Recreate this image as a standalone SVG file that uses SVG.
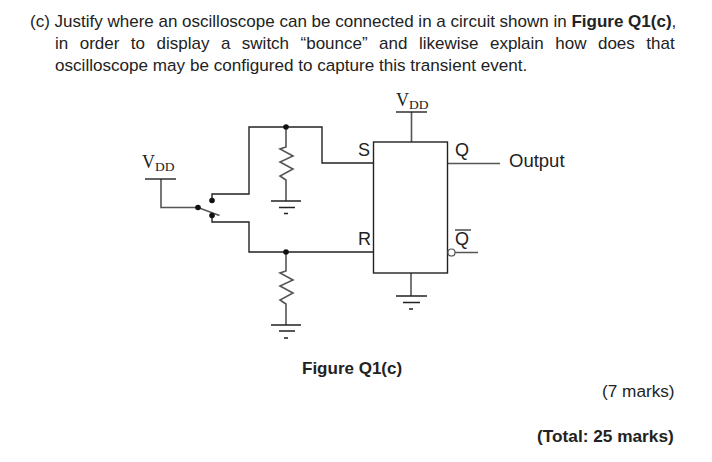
<svg xmlns="http://www.w3.org/2000/svg" width="712" height="462" viewBox="0 0 712 462">
<style>
text{font-family:"Liberation Sans",Arial,sans-serif;font-size:17px;fill:#222}
.b{font-weight:bold}
.s{font-family:"Liberation Serif","Times New Roman",serif;fill:#222}
.w{fill:none;stroke:#222;stroke-width:1.4}
.g{fill:none;stroke:#555;stroke-width:1.6}
.d{fill:#111}
</style>
<rect width="712" height="462" fill="#fff"/>
<g id="question">
<text x="30" y="27">(c) Justify where an oscilloscope can be connected in a circuit shown in <tspan class="b">Figure Q1(c)</tspan>,</text>
<text x="55" y="49" style="word-spacing:6.750px">in order to display a switch “bounce” and likewise explain how does that</text>
<text x="55" y="71" style="font-size:17.100px">oscilloscope may be configured to capture this transient event.</text>
</g>
<g id="connectors">
<path class="w" d="M212 200V194H249V127H322V163H373.500M212 215V222H249V252H373.500"/>
<path class="g" d="M161 179V207.500H198L219.500 215.500"/>
<path class="g" d="M411.500 112V142M448 163.500H500M455 252.500H478"/>
<path class="g" d="M286 127V147L280 149L293 156L280 162L293 169L280 176L286 180V201"/>
<path class="g" d="M286 252V271L280 273L293 280L280 286L293 293L280 300L286 304V325"/>
<path class="g" d="M411 273V296"/>
<g class="d"><circle cx="286" cy="127" r="2.800"/><circle cx="286" cy="252" r="2.800"/><circle cx="198" cy="207.500" r="2.800"/><circle cx="212" cy="200.500" r="2.800"/><circle cx="212" cy="215.500" r="2.800"/></g>
</g>
<g id="vdd-left"><path class="w" d="M145 179H176"/><text class="s" x="142" y="168" style="font-size:18px">V<tspan style="font-size:13.500px" dy="3">DD</tspan></text></g>
<g id="vdd-top"><path class="w" d="M396 112H427"/><text class="s" x="396" y="106" style="font-size:18px">V<tspan style="font-size:13.500px" dy="3">DD</tspan></text></g>
<g id="ground-1"><path class="w" d="M271 201H301M279 207.500H295M284 213.500H288"/></g>
<g id="ground-2"><path class="w" d="M271 325H301M279 331H295M284 338H288"/></g>
<g id="ground-3"><path class="w" d="M396 296H427M403 302.500H420M409 309H413"/></g>
<g id="flipflop">
<rect class="w" x="373.500" y="142" width="74" height="131"/>
<circle cx="451.500" cy="252.500" r="3.500" fill="#fff" stroke="#555" stroke-width="1.200"/>
<text x="358" y="156" style="font-size:18px">S</text><text x="358" y="245" style="font-size:18px">R</text>
<text x="455" y="156" style="font-size:18px">Q</text><text x="455" y="245" style="font-size:18px">Q</text>
<path d="M455 230H471" stroke="#222" stroke-width="1.200"/>
</g>
<g id="output"><text x="509" y="167" style="font-size:18.500px">Output</text></g>
<g id="caption">
<text class="b" x="302" y="374">Figure Q1(c)</text>
<text x="602" y="397" style="font-size:17.200px">(7 marks)</text>
<text class="b" x="537" y="442" style="font-size:17.250px">(Total: 25 marks)</text>
</g>
</svg>
